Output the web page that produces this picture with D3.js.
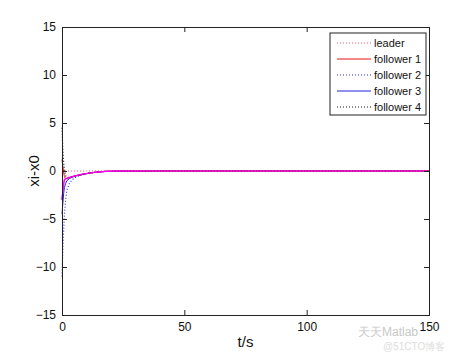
<!DOCTYPE html>
<html><head><meta charset="utf-8">
<script src="https://cdn.jsdelivr.net/npm/d3@7"></script>
<style>body{margin:0;background:#fff}svg{display:block}text{font-family:"Liberation Sans",Arial,sans-serif}</style>
</head><body>
<script>
const xTicks = [0, 50, 100, 150];
const yTicks = [-15, -10, -5, 0, 5, 10, 15];
const times     = [0, 0.3, 0.7, 1, 1.5, 2, 3, 4, 5, 6, 8, 10, 12, 15, 18, 22, 40, 80, 120, 150];
const leader    = [0, 0, 0, 0, 0, 0, 0, 0, 0, 0, 0, 0, 0, 0, 0, 0, 0, 0, 0, 0];
const follower1 = [1.2, 0.6, -0.2, -0.6, -0.8, -0.8, -0.7, -0.62, -0.55, -0.48, -0.37, -0.27, -0.18, -0.09, -0.04, -0.01, 0, 0, 0, 0];
const follower2 = [-11, -8.5, -6, -4.5, -3, -2, -1.3, -0.95, -0.75, -0.6, -0.42, -0.3, -0.2, -0.1, -0.04, -0.01, 0, 0, 0, 0];
const follower3 = [-4.5, -3.5, -2.3, -1.7, -1.3, -1.0, -0.8, -0.67, -0.57, -0.5, -0.38, -0.28, -0.19, -0.09, -0.04, -0.01, 0, 0, 0, 0];
const follower4 = [4.5, 2.5, 0.8, 0.1, -0.5, -0.65, -0.65, -0.6, -0.54, -0.47, -0.36, -0.26, -0.18, -0.09, -0.04, -0.01, 0, 0, 0, 0];
const follower5 = [-3, -2.2, -1.3, -0.9, -0.8, -0.75, -0.68, -0.6, -0.53, -0.47, -0.36, -0.26, -0.18, -0.09, -0.04, -0.01, 0, 0, 0, 0];
const seriesNames = ["leader", "follower 1", "follower 2", "follower 3", "follower 4"];

const W = 474, H = 354;
const svg = d3.select("body").append("svg").attr("width", W).attr("height", H);
const m = {l: 62, r: 45, t: 27, b: 39};
const x = d3.scaleLinear().domain([0, 150]).range([m.l, W - m.r]);
const y = d3.scaleLinear().domain([-15, 15]).range([H - m.b, m.t]);

const series = [
  {v: follower5, c: "#ff00ff", dash: null, w: 1.2},
  {v: follower2, c: "#3333ff", dash: "1,2", w: 1.2},
  {v: follower3, c: "#2222dd", dash: null, w: 1},
  {v: follower1, c: "#ee1111", dash: null, w: 1},
  {v: follower4, c: "#111111", dash: "1,2", w: 1.2},
  {v: leader, c: "#ff5577", dash: "1,2", w: 1},
];
const line = d3.line().x((d, i) => x(times[i])).y(d => y(d));
series.forEach(s => {
  svg.append("path").datum(s.v).attr("d", line).attr("fill", "none")
    .attr("stroke", s.c).attr("stroke-width", s.w).attr("stroke-dasharray", s.dash);
});
svg.append("path").datum(follower5).attr("d", line).attr("fill", "none").attr("stroke", "#ff00ff").attr("stroke-width", 1.2);

const gx = svg.append("g").attr("transform", `translate(0,${H - m.b})`)
  .call(d3.axisBottom(x).tickValues(xTicks).tickSize(-5).tickPadding(7));
const gxt = svg.append("g").attr("transform", `translate(0,${m.t})`)
  .call(d3.axisTop(x).tickValues(xTicks).tickSize(-5).tickFormat(""));
const gy = svg.append("g").attr("transform", `translate(${m.l},0)`)
  .call(d3.axisLeft(y).tickValues(yTicks).tickSize(-5).tickPadding(6));
const gyr = svg.append("g").attr("transform", `translate(${W - m.r},0)`)
  .call(d3.axisRight(y).tickValues(yTicks).tickSize(-5).tickFormat(""));
[gx, gxt, gy, gyr].forEach(g => {
  g.select(".domain").attr("stroke", "#222").attr("stroke-width", 1);
  g.selectAll(".tick line").attr("stroke", "#222");
  g.selectAll("text").attr("font-size", 12).attr("fill", "#111").attr("font-family", "Liberation Sans, Arial, sans-serif");
});

svg.append("text").attr("x", (m.l + W - m.r) / 2).attr("y", 347).attr("text-anchor", "middle")
  .attr("font-size", 15).attr("fill", "#111").text("t/s");
svg.append("text").attr("transform", `translate(39,${y(0)}) rotate(-90)`).attr("text-anchor", "middle")
  .attr("font-size", 15).attr("fill", "#111").text("xi-x0");

const lg = svg.append("g").attr("transform", "translate(330,33)");
lg.append("rect").attr("width", 96).attr("height", 82).attr("fill", "#fff").attr("stroke", "#222");
const legStyles = [
  {c: "#ff5577", dash: "1,2"}, {c: "#ee1111", dash: null}, {c: "#3333ff", dash: "1,2"},
  {c: "#2222dd", dash: null}, {c: "#111111", dash: "1,2"}
];
seriesNames.forEach((n, i) => {
  const yy = 10 + i * 16;
  lg.append("line").attr("x1", 7).attr("x2", 41).attr("y1", yy).attr("y2", yy)
    .attr("stroke", legStyles[i].c).attr("stroke-width", 1.2).attr("stroke-dasharray", legStyles[i].dash);
  lg.append("text").attr("x", 44).attr("y", yy + 4).attr("font-size", 11).attr("fill", "#111").text(n);
});

svg.append("text").attr("x", 358).attr("y", 336).attr("font-size", 12).attr("fill", "#c8c8c8").text("天天Matlab");
svg.append("text").attr("x", 383).attr("y", 350).attr("font-size", 10).attr("fill", "#dddddd").text("@51CTO博客");
</script>
</body></html>
